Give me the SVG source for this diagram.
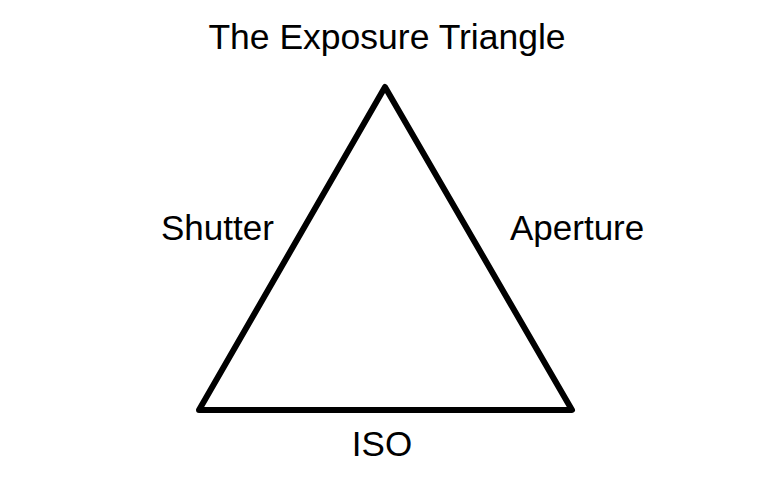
<svg xmlns="http://www.w3.org/2000/svg" width="768" height="481" viewBox="0 0 768 481">
<style>
text{font-family:"Liberation Sans",Arial,sans-serif;font-size:35px;fill:#000}
.edge{fill:none;stroke:#000;stroke-width:6;stroke-linejoin:round;stroke-linecap:round}
</style>
<rect width="768" height="481" fill="#fff"/>
<g id="title"><text x="387" y="49" text-anchor="middle" style="font-size:35.5px">The Exposure Triangle</text></g>
<g id="connectors">
<polygon class="edge" points="385,87 572,410 199,410"/>
</g>
<g id="shutter"><text x="161" y="240">Shutter</text></g>
<g id="aperture"><text x="510" y="240">Aperture</text></g>
<g id="iso"><text x="382" y="456" text-anchor="middle">ISO</text></g>
</svg>
